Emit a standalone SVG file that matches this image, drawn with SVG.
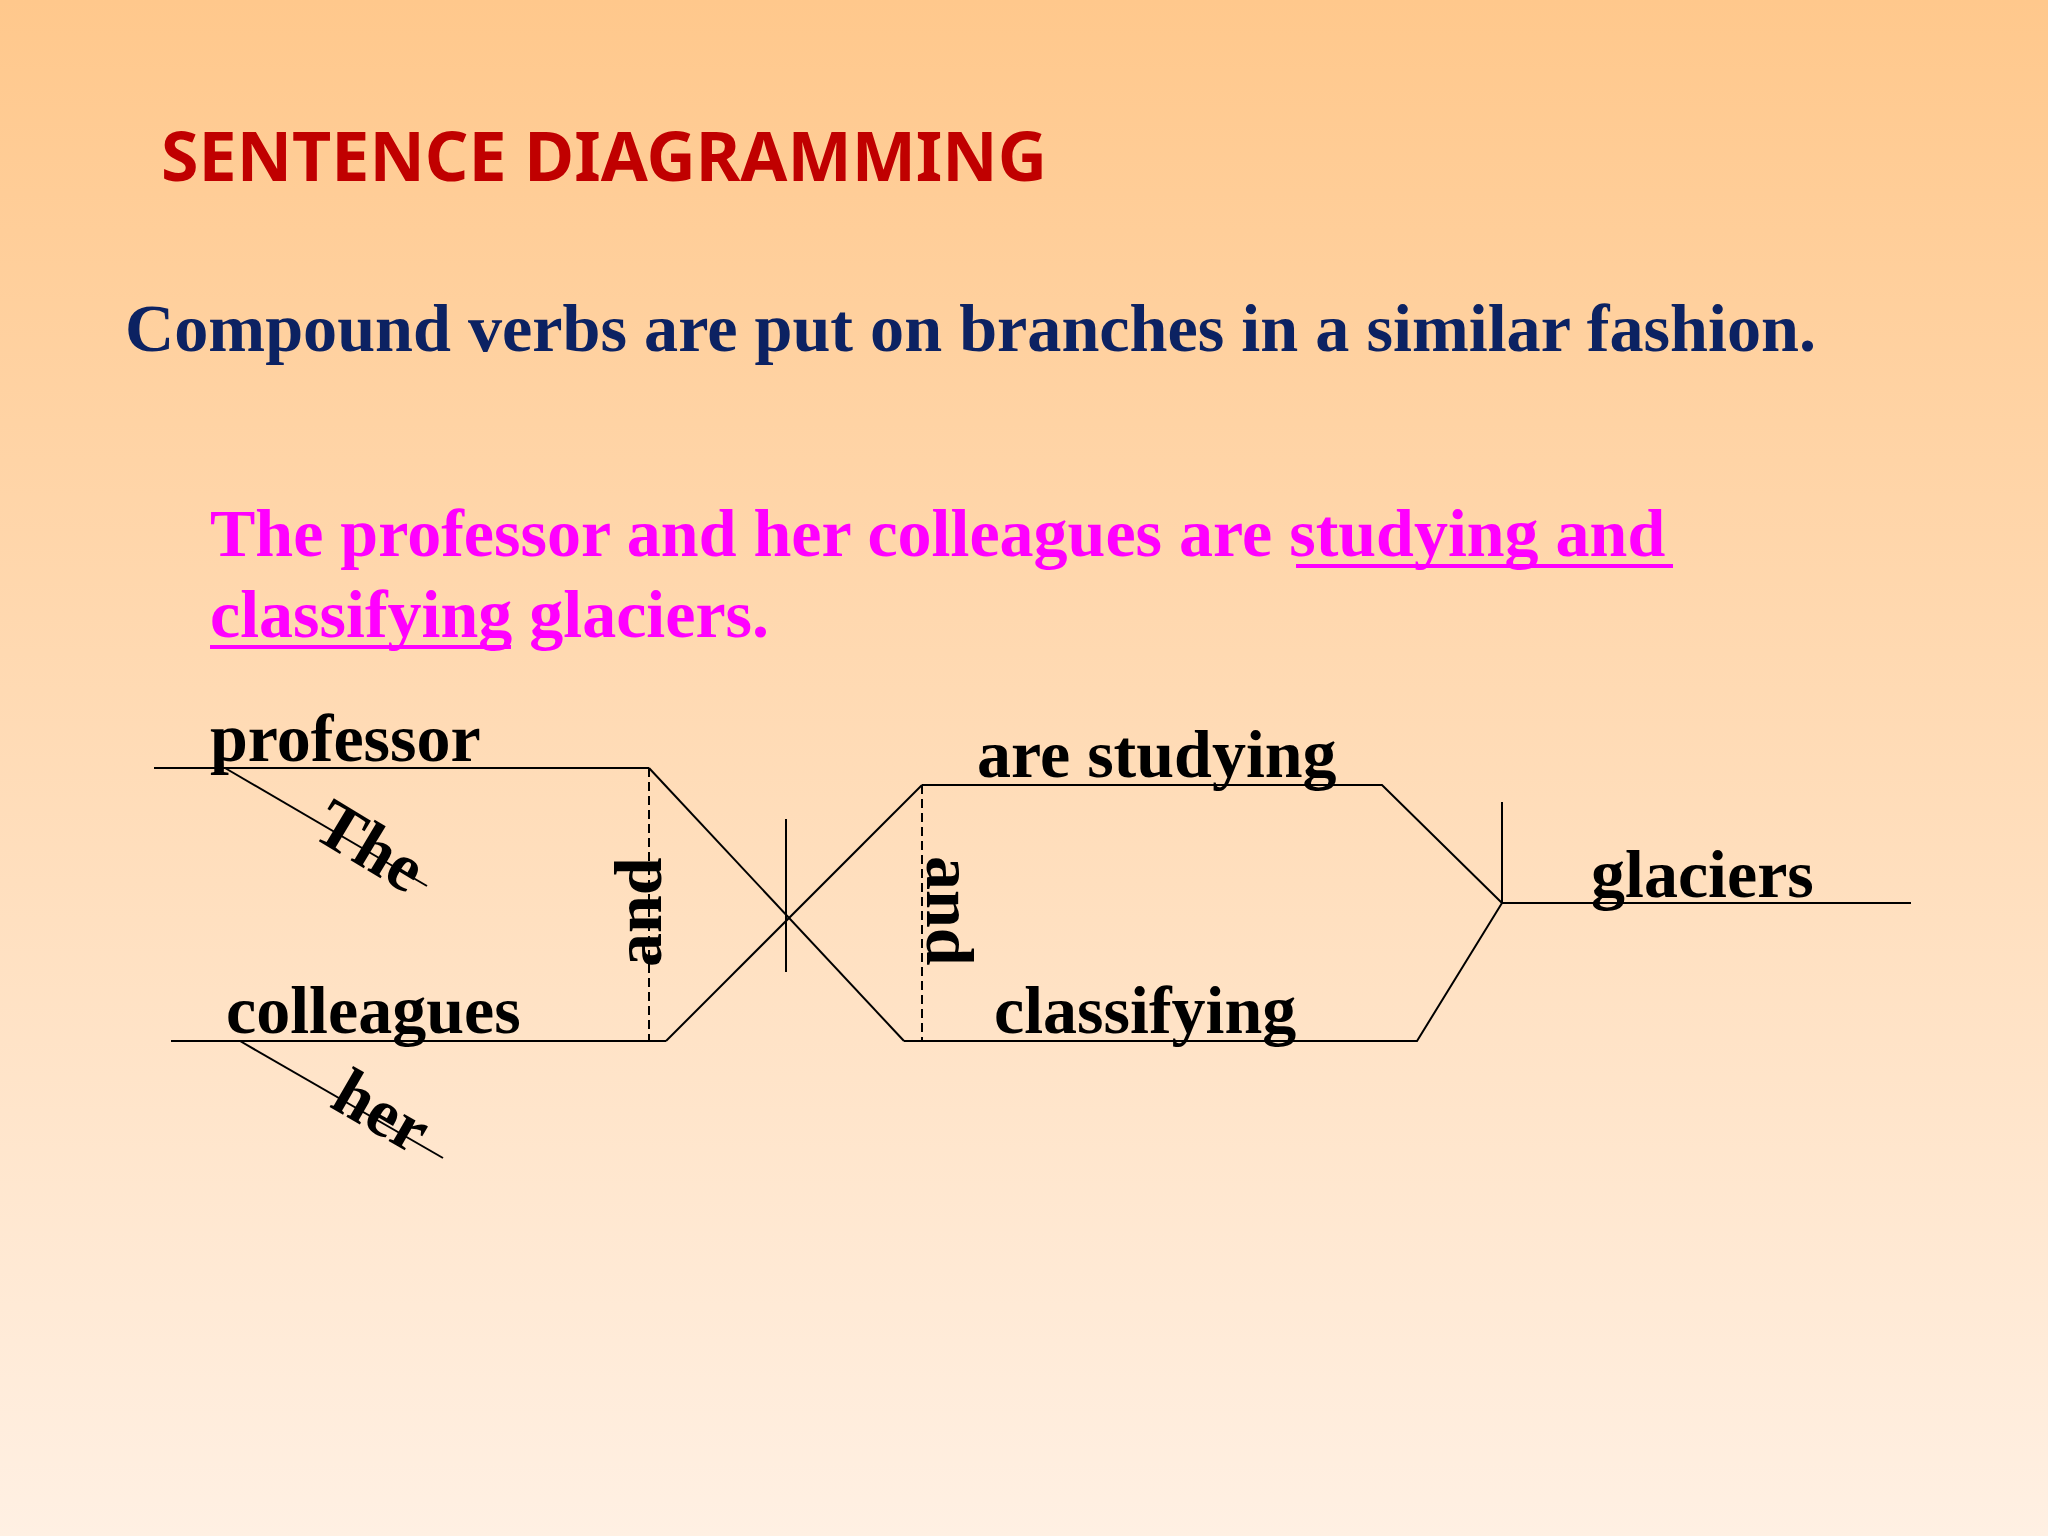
<svg xmlns="http://www.w3.org/2000/svg" width="2048" height="1536" viewBox="0 0 2048 1536">
  <defs>
    <linearGradient id="bg" x1="0" y1="0" x2="0" y2="1">
      <stop offset="0" stop-color="#FFC88C"/>
      <stop offset="1" stop-color="#FFF0E3"/>
    </linearGradient>
    <style>
      .title { font-family: "Noto Sans", "Open Sans", sans-serif; font-weight: bold; font-size: 68px; fill: #C00000; }
      .sub { font-family: "Liberation Serif", "Times New Roman", serif; font-weight: bold; font-size: 68px; fill: #0C2262; }
      .pink { font-family: "Liberation Serif", "Times New Roman", serif; font-weight: bold; font-size: 68px; fill: #FF00FF; }
      .word { font-family: "Liberation Serif", "Times New Roman", serif; font-weight: bold; font-size: 68px; fill: #000000; }
      .ln { stroke: #000000; stroke-width: 2; fill: none; }
      .dash { stroke: #000000; stroke-width: 2; fill: none; stroke-dasharray: 9 5; }
      .ul { stroke: #FF00FF; stroke-width: 4; }
    </style>
  </defs>
  <rect x="0" y="0" width="2048" height="1536" fill="url(#bg)"/>

  <text class="title" x="161" y="181" textLength="886" lengthAdjust="spacingAndGlyphs">SENTENCE DIAGRAMMING</text>
  <text class="sub" x="125" y="351" textLength="1691" lengthAdjust="spacingAndGlyphs">Compound verbs are put on branches in a similar fashion.</text>

  <g id="sentence">
    <text class="pink" x="210" y="556">The professor and her colleagues are studying and</text>
    <text class="pink" x="210" y="637">classifying glaciers.</text>
    <line class="ul" x1="1296" y1="566" x2="1673" y2="566"/>
    <line class="ul" x1="210" y1="647" x2="511" y2="647"/>
  </g>

  <g id="connectors">
    <line class="ln" x1="154" y1="768" x2="649" y2="768"/>
    <line class="ln" x1="225" y1="768" x2="427" y2="886"/>
    <line class="ln" x1="171" y1="1041" x2="666" y2="1041"/>
    <line class="ln" x1="240" y1="1041" x2="443" y2="1158"/>
    <line class="dash" x1="649" y1="768" x2="649" y2="1041"/>
    <line class="ln" x1="649" y1="768" x2="904" y2="1041"/>
    <line class="ln" x1="666" y1="1041" x2="922" y2="785"/>
    <line class="ln" x1="786" y1="819" x2="786" y2="972"/>
    <line class="dash" x1="922" y1="785" x2="922" y2="1041"/>
    <polyline class="ln" points="922,785 1382,785 1502,903"/>
    <polyline class="ln" points="904,1041 1417,1041 1502,903"/>
    <line class="ln" x1="1502" y1="802" x2="1502" y2="903"/>
    <line class="ln" x1="1502" y1="903" x2="1911" y2="903"/>
  </g>

  <g id="node-professor"><text class="word" x="210" y="761">professor</text></g>
  <g id="node-the"><text class="word" transform="translate(310,836) rotate(31)">The</text></g>
  <g id="node-colleagues"><text class="word" x="226" y="1033">colleagues</text></g>
  <g id="node-her"><text class="word" transform="translate(328,1106) rotate(30)">her</text></g>
  <g id="node-and-left"><text class="word" transform="translate(661,967) rotate(-90)">and</text></g>
  <g id="node-and-right"><text class="word" transform="translate(927,856) rotate(90)">and</text></g>
  <g id="node-are-studying"><text class="word" x="977" y="777">are studying</text></g>
  <g id="node-classifying"><text class="word" x="994" y="1033">classifying</text></g>
  <g id="node-glaciers"><text class="word" x="1591" y="897">glaciers</text></g>
</svg>
